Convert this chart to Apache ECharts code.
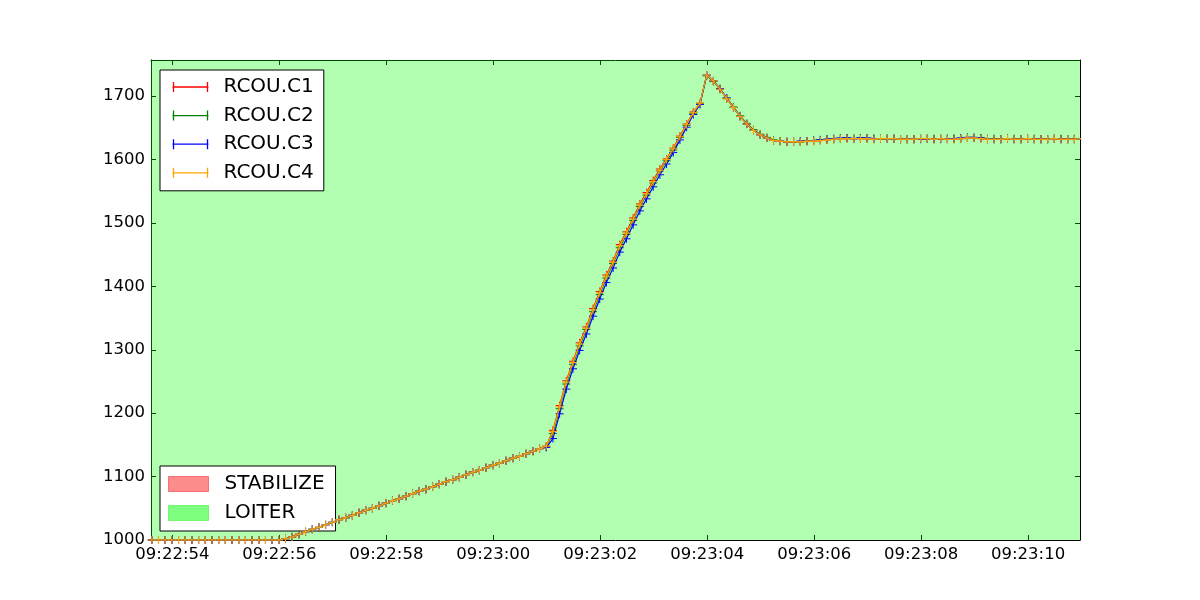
<!DOCTYPE html>
<html>
<head>
<meta charset="utf-8">
<script src="https://cdn.jsdelivr.net/npm/echarts@6/dist/echarts.min.js"></script>
<style>html,body{margin:0;padding:0;background:#fff}#chart{width:1200px;height:600px}</style>
</head>
<body>
<div id="chart"></div>
<script>
// Sample times, seconds after 09:22:00
const times = [
  53.615,53.740,53.865,53.990,54.115,54.240,54.365,54.490,54.615,54.740,
  54.865,54.990,55.115,55.240,55.365,55.490,55.615,55.740,55.865,55.990,
  56.115,56.240,56.365,56.490,56.615,56.740,56.865,56.990,57.115,57.240,
  57.365,57.490,57.615,57.740,57.865,57.990,58.115,58.240,58.365,58.490,
  58.615,58.740,58.865,58.990,59.115,59.240,59.365,59.490,59.615,59.740,
  59.865,59.990,60.115,60.240,60.365,60.490,60.615,60.740,60.865,60.990,
  61.115,61.240,61.365,61.490,61.615,61.740,61.865,61.990,62.115,62.240,
  62.365,62.490,62.615,62.740,62.865,62.990,63.115,63.240,63.365,63.490,
  63.615,63.740,63.865,63.990,64.115,64.240,64.365,64.490,64.615,64.740,
  64.865,64.990,65.115,65.240,65.365,65.490,65.615,65.740,65.865,65.990,
  66.115,66.240,66.365,66.490,66.615,66.740,66.865,66.990,67.115,67.240,
  67.365,67.490,67.615,67.740,67.865,67.990,68.115,68.240,68.365,68.490,
  68.615,68.740,68.865,68.990,69.115,69.240,69.365,69.490,69.615,69.740,
  69.865,69.990,70.115,70.240,70.365,70.490,70.615,70.740,70.865,70.990
];

const rcouC1 = [
  1000,1000,1000,1000,1000,1000,1000,1000,1000,1000,
  1000,1000,1000,1000,1000,1000,1000,1000,1000,1000,
  1002,1005,1009,1013,1017,1020,1024,1028,1032,1035,
  1039,1043,1047,1050,1054,1058,1062,1065,1069,1073,
  1077,1080,1084,1088,1092,1095,1099,1103,1107,1110,
  1114,1118,1121,1125,1129,1132,1136,1140,1144,1148,
  1173,1212,1251,1282,1311,1336,1365,1392,1418,1440,
  1466,1486,1508,1530,1548,1567,1585,1601,1618,1637,
  1656,1675,1689,1733,1724,1711,1696,1682,1668,1656,
  1646,1639,1634,1630,1629,1628,1628,1628,1629,1629,
  1630,1631,1632,1633,1633,1633,1633,1633,1632,1633,
  1633,1633,1632,1632,1632,1633,1633,1632,1633,1632,
  1632,1633,1634,1634,1633,1632,1632,1632,1633,1632,
  1632,1633,1632,1632,1632,1633,1632,1632,1632,1633
];
const rcouC2 = [
  1000,1000,1000,1000,1000,1000,1000,1000,1000,1000,
  1000,1000,1000,1000,1000,1000,1000,1000,1000,1000,
  1002,1005,1009,1013,1017,1020,1024,1028,1032,1035,
  1039,1043,1047,1050,1054,1058,1062,1065,1069,1073,
  1077,1080,1084,1088,1092,1095,1099,1103,1107,1110,
  1114,1118,1121,1125,1129,1132,1136,1140,1144,1147,
  1168,1207,1246,1277,1306,1332,1360,1387,1413,1436,
  1461,1482,1504,1526,1544,1563,1582,1598,1615,1635,
  1654,1673,1688,1732,1723,1711,1697,1683,1669,1657,
  1647,1640,1635,1631,1629,1628,1628,1628,1629,1630,
  1631,1632,1632,1633,1634,1633,1634,1633,1633,1633,
  1633,1633,1632,1632,1632,1633,1633,1633,1633,1633,
  1633,1633,1634,1634,1634,1633,1633,1632,1633,1633,
  1632,1633,1633,1632,1632,1633,1633,1632,1633,1633
];
const rcouC3 = [
  1000,1000,1000,1000,1000,1000,1000,1000,1000,1000,
  1000,1000,1000,1000,1000,1000,1000,1000,1000,1000,
  1002,1005,1009,1013,1017,1020,1024,1028,1032,1035,
  1039,1043,1047,1050,1054,1058,1062,1065,1069,1073,
  1077,1080,1084,1088,1092,1095,1099,1103,1107,1110,
  1114,1118,1121,1125,1129,1132,1136,1140,1144,1146,
  1160,1199,1238,1270,1299,1325,1353,1380,1406,1429,
  1454,1475,1497,1519,1538,1557,1576,1593,1611,1631,
  1651,1671,1687,1733,1724,1712,1697,1682,1668,1656,
  1646,1639,1634,1630,1629,1628,1628,1629,1629,1630,
  1631,1632,1633,1634,1634,1633,1634,1634,1633,1633,
  1633,1633,1632,1632,1632,1632,1633,1632,1632,1633,
  1633,1634,1635,1635,1634,1632,1632,1632,1633,1632,
  1632,1633,1632,1632,1632,1633,1632,1632,1632,1633
];
const rcouC4 = [
  1000,1000,1000,1000,1000,1000,1000,1000,1000,1000,
  1000,1000,1000,1000,1000,1000,1000,1000,1000,1000,
  1002,1005,1009,1013,1017,1020,1024,1028,1032,1035,
  1039,1043,1047,1050,1054,1058,1062,1065,1069,1073,
  1077,1080,1084,1088,1092,1095,1099,1103,1107,1110,
  1114,1118,1121,1125,1129,1132,1136,1140,1144,1148,
  1171,1210,1249,1280,1309,1334,1363,1390,1416,1438,
  1464,1484,1506,1528,1546,1565,1583,1600,1617,1636,
  1655,1674,1689,1733,1724,1711,1696,1682,1668,1656,
  1646,1639,1634,1630,1629,1628,1628,1628,1629,1629,
  1630,1631,1632,1633,1633,1633,1633,1633,1632,1633,
  1633,1633,1632,1632,1632,1633,1633,1632,1633,1632,
  1632,1633,1634,1634,1633,1632,1632,1632,1633,1632,
  1632,1633,1632,1632,1632,1633,1632,1632,1632,1633
];

const seriesNames = ['RCOU.C1','RCOU.C2','RCOU.C3','RCOU.C4'];
const seriesValues = [rcouC1, rcouC2, rcouC3, rcouC4];
const seriesColors = ['#ff0000','#008000','#0000ff','#ffa500'];

const modeNames = ['STABILIZE','LOITER'];
const modeFill = ['rgba(255,0,0,0.45)','rgba(0,255,0,0.5)'];
const modeEdge = ['rgba(255,80,80,0.75)','rgba(60,240,60,0.6)'];
const loiterStart = 53.60;
const loiterEnd = 70.97;

const xTickValues = [54,56,58,60,62,64,66,68,70];
const yTickValues = [1000,1100,1200,1300,1400,1500,1600,1700];
const xMin = 53.60, xMax = 70.97;
const yMin = 1000, yMax = 1757;

function pad2(n){ return (n < 10 ? '0' : '') + n; }
function fmtTime(v){
  const total = Math.round(9*3600 + 22*60 + v);
  const h = Math.floor(total/3600), m = Math.floor((total%3600)/60), s = total%60;
  return pad2(h) + ':' + pad2(m) + ':' + pad2(s);
}

const FONT = 'DejaVu Sans';
const plusSymbol = 'path://M0,4L8,4M4,0L4,8';
const legendLineIcon = 'path://M0,5L36,5M1,1L1,9M35,1L35,9';

const lineSeries = seriesNames.map((name, k) => ({
  name: name,
  type: 'line',
  data: times.map((t, i) => [t, seriesValues[k][i]]),
  symbol: plusSymbol,
  symbolSize: 8,
  showSymbol: true,
  showAllSymbol: true,
  color: seriesColors[k],
  itemStyle: { color: seriesColors[k], borderColor: seriesColors[k], borderWidth: 1 },
  lineStyle: { color: seriesColors[k], width: 1.2 },
  z: 3 + k,
  silent: true
}));

const modeSeries = [
  {
    name: 'STABILIZE', type: 'line', data: [],
    color: modeFill[0],
    itemStyle: { color: modeFill[0] }
  },
  {
    name: 'LOITER', type: 'line', data: [], z: 1,
    color: modeFill[1],
    itemStyle: { color: modeFill[1] },
    markArea: {
      silent: true,
      itemStyle: { color: 'rgba(0,255,0,0.3)' },
      data: [[{ xAxis: loiterStart }, { xAxis: loiterEnd }]]
    }
  }
];

const axisCommon = {
  axisLine: { show: true, onZero: false, lineStyle: { color: '#000', width: 1 } },
  splitLine: { show: false }
};

const option = {
  animation: false,
  backgroundColor: '#ffffff',
  grid: { left: 151, right: 120, top: 60, bottom: 60, containLabel: false },
  xAxis: [
    Object.assign({
      type: 'value', position: 'bottom', min: xMin, max: xMax,
      axisTick: { show: true, inside: true, length: 5, customValues: xTickValues, lineStyle: { color: '#000' } },
      axisLabel: { show: true, customValues: xTickValues, formatter: fmtTime, color: '#000', fontSize: 16.5, fontFamily: FONT, margin: 6 }
    }, axisCommon),
    Object.assign({
      type: 'value', position: 'top', min: xMin, max: xMax,
      axisTick: { show: true, inside: true, length: 5, customValues: xTickValues, lineStyle: { color: '#000' } },
      axisLabel: { show: false }
    }, axisCommon)
  ],
  yAxis: [
    Object.assign({
      type: 'value', position: 'left', min: yMin, max: yMax,
      axisTick: { show: true, inside: true, length: 5, customValues: yTickValues, lineStyle: { color: '#000' } },
      axisLabel: { show: true, customValues: yTickValues, formatter: v => String(v), color: '#000', fontSize: 16.5, fontFamily: FONT, margin: 6 }
    }, axisCommon),
    Object.assign({
      type: 'value', position: 'right', min: yMin, max: yMax,
      axisTick: { show: true, inside: true, length: 5, customValues: yTickValues, lineStyle: { color: '#000' } },
      axisLabel: { show: false }
    }, axisCommon)
  ],
  legend: [
    {
      data: seriesNames.map((n, k) => ({
        name: n, icon: legendLineIcon,
        itemStyle: { color: 'none', borderColor: seriesColors[k], borderWidth: 1.3 }
      })),
      orient: 'vertical', left: 160, top: 70,
      backgroundColor: '#ffffff', borderColor: '#000', borderWidth: 1, borderRadius: 0,
      padding: [5, 10, 6, 10], itemGap: 4.6, itemWidth: 36, itemHeight: 10,
      symbolKeepAspect: false,
      textStyle: { fontSize: 20, fontFamily: FONT, color: '#000', padding: [0, 0, 0, 10], lineHeight: 24 },
      selectedMode: false
    },
    {
      data: modeNames.map((n, k) => ({
        name: n, icon: 'rect',
        itemStyle: { color: modeFill[k], borderColor: modeEdge[k], borderWidth: 1 }
      })),
      orient: 'vertical', left: 160, top: 466,
      backgroundColor: '#ffffff', borderColor: '#000', borderWidth: 1, borderRadius: 0,
      padding: [6, 11, 6, 8], itemGap: 5, itemWidth: 40, itemHeight: 15,
      textStyle: { fontSize: 20, fontFamily: FONT, color: '#000', padding: [0, 0, 0, 11], lineHeight: 24 },
      selectedMode: false
    }
  ],
  series: modeSeries.concat(lineSeries)
};

const chart = echarts.init(document.getElementById('chart'), null, { renderer: 'canvas' });
chart.setOption(option);
</script>
</body>
</html>
